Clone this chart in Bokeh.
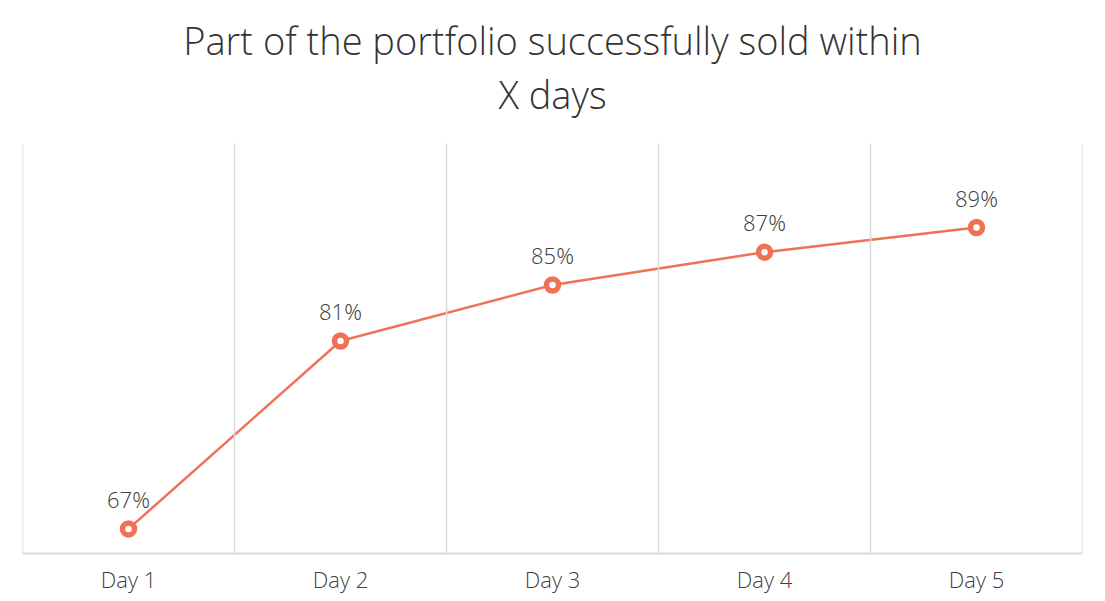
from bokeh.plotting import figure
from bokeh.models import ColumnDataSource, LabelSet, Span, Range1d, FactorRange, Title
from bokeh.core.properties import value
from bokeh.embed import file_html
from bokeh.resources import INLINE

days = ["Day 1", "Day 2", "Day 3", "Day 4", "Day 5"]
share = [66.8, 80.55, 84.65, 87.05, 88.85]
labels = ["67%", "81%", "85%", "87%", "89%"]
title_lines = ["Part of the portfolio successfully sold within", "X days"]

LINE = "#F07256"
TXT = "#404040"
GRID = "#D9D9D9"
FONT = "Open Sans Light"

src = ColumnDataSource(dict(x=days, y=share, lab=labels))

p = figure(width=1090, height=596, x_range=FactorRange(*days, range_padding=0),
           y_range=Range1d(65, 95), output_backend="svg", toolbar_location=None,
           min_border_left=22, min_border_right=8, min_border_bottom=0, min_border_top=0)

# spacer between the plot frame and the title lines
p.add_layout(Title(text=" ", text_font_size="1px", standoff=21), "above")
p.add_layout(Title(text=title_lines[1], align="center", text_font=FONT,
                   text_font_size="38px", text_font_style="normal",
                   text_color="#333333", standoff=0), "above")
p.add_layout(Title(text=title_lines[0], align="center", text_font=FONT,
                   text_font_size="38px", text_font_style="normal",
                   text_color="#333333", standoff=0), "above")
# top spacer
p.title.text = " "
p.title.text_font_size = "1px"
p.title.standoff = 8

p.outline_line_color = None
p.xgrid.visible = False
p.ygrid.visible = False
p.yaxis.visible = False

for loc in range(0, 6):
    p.add_layout(Span(location=loc, dimension="height", line_color=GRID, line_width=1.5))

ax = p.xaxis[0]
ax.axis_line_color = GRID
ax.axis_line_width = 2
ax.major_tick_line_color = None
ax.minor_tick_line_color = None
ax.major_tick_out = 0
ax.major_tick_in = 0
ax.major_label_standoff = 10
ax.major_label_text_font = FONT
ax.major_label_text_font_size = "22px"
ax.major_label_text_color = TXT

p.line("x", "y", source=src, line_color=LINE, line_width=2.5)
p.scatter("x", "y", source=src, size=12, fill_color="white", line_color=LINE, line_width=5.5)

p.add_layout(LabelSet(x="x", y="y", text="lab", source=src, y_offset=30,
                      text_align="center", text_baseline="middle",
                      text_font=value(FONT), text_font_size=value("22px"), text_color=TXT))

open("out.html", "w").write(file_html(p, INLINE))
